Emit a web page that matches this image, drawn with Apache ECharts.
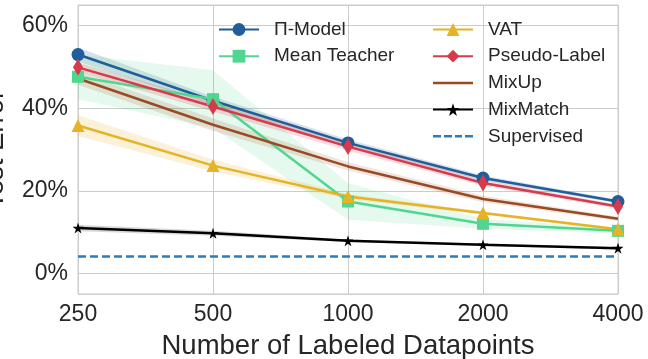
<!DOCTYPE html>
<html>
<head>
<meta charset="utf-8">
<script src="https://cdn.jsdelivr.net/npm/echarts@6/dist/echarts.min.js"></script>
<style>
  html, body { margin: 0; padding: 0; background: #fff; }
  #chart { width: 648px; height: 359px; }
</style>
</head>
<body>
<div id="chart"></div>
<script>
// values, test error in %
var labeled = ['250', '500', '1000', '2000', '4000'];
var piModel = [53.0, 41.8, 31.6, 23.1, 17.4];
var piModelStd = [1.7, 1.0, 0.8, 0.6, 0.4];
var meanTeacher = [47.6, 42.2, 17.4, 12.0, 10.3];
var meanTeacherStd = [5.4, 7.0, 4.4, 1.2, 0.6];
var vat = [35.8, 26.1, 18.6, 14.6, 10.7];
var vatStd = [2.5, 1.4, 0.6, 0.4, 0.3];
var pseudoLabel = [49.9, 40.4, 30.7, 21.9, 16.2];
var pseudoLabelStd = [1.2, 1.2, 1.0, 0.7, 0.5];
var mixUp = [47.2, 36.0, 25.9, 18.0, 13.2];
var mixUpStd = [1.5, 1.5, 1.0, 0.8, 0.5];
var mixMatch = [11.0, 9.7, 7.9, 6.9, 6.1];
var mixMatchStd = [0.8, 0.6, 0.3, 0.3, 0.3];
var supervised = [4.1, 4.1, 4.1, 4.1, 4.1];

var font = '"Liberation Sans", Arial, sans-serif';
var ink = '#262626';
var star = 'path://M0,-10L2.245,-3.09L9.51,-3.09L3.633,1.18L5.878,8.09L0,3.82L-5.878,8.09L-3.633,1.18L-9.51,-3.09L-2.245,-3.09Z';

var chart = echarts.init(document.getElementById('chart'));

function band(name, mean, std, color, opacity) {
  var lower = mean.map(function (v, i) { return v - std[i]; });
  var width = std.map(function (s) { return 2 * s; });
  return [
    { name: '_lo_' + name, type: 'line', data: lower, stack: 'b_' + name, symbol: 'none',
      lineStyle: { opacity: 0 }, silent: true, z: 1 },
    { name: '_bd_' + name, type: 'line', data: width, stack: 'b_' + name, symbol: 'none',
      lineStyle: { opacity: 0 }, areaStyle: { color: color, opacity: opacity }, silent: true, z: 1 }
  ];
}

function line(name, data, color, symbol, size, extra) {
  var s = {
    name: name, type: 'line', data: data, color: color,
    symbol: symbol, symbolSize: size, showSymbol: symbol !== 'none',
    lineStyle: { color: color, width: 2.5 },
    itemStyle: { color: color },
    z: 3
  };
  return Object.assign(s, extra || {});
}

var series = [].concat(
  band('pi', piModel, piModelStd, '#215d98', 0.18),
  band('mt', meanTeacher, meanTeacherStd, '#4fd68f', 0.15),
  band('vat', vat, vatStd, '#e6b325', 0.18),
  band('pl', pseudoLabel, pseudoLabelStd, '#d73a4a', 0.18),
  band('mu', mixUp, mixUpStd, '#9a4a23', 0.15),
  band('mm', mixMatch, mixMatchStd, '#000000', 0.15),
  [
    line('Π-Model', piModel, '#215d98', 'circle', 13),
    line('Mean Teacher', meanTeacher, '#4fd68f', 'rect', 12),
    line('VAT', vat, '#e6b325', 'triangle', 13),
    line('Pseudo-Label', pseudoLabel, '#d73a4a', 'diamond', [10, 17]),
    line('MixUp', mixUp, '#9a4a23', 'none', 0),
    line('MixMatch', mixMatch, '#000000', star, 11),
    line('Supervised', supervised, '#2b7bba', 'none', 0, {
      lineStyle: { color: '#2b7bba', width: 2.5, type: [8, 4] }
    })
  ]
);

var legendText = { fontFamily: font, fontSize: 19, color: ink, lineHeight: 19, padding: [0, 0, 0, 10] };

var option = {
  animation: false,
  backgroundColor: '#ffffff',
  grid: {
    left: 78, right: 30, top: 5, bottom: 65,
    containLabel: false, outerBoundsMode: 'none',
    show: true, borderColor: '#cccccc', borderWidth: 1
  },
  legend: [
    {
      orient: 'vertical', left: 218, top: 20, padding: 0, itemWidth: 40, itemHeight: 16, itemGap: 7.7,
      textStyle: legendText, selectedMode: false,
      data: ['Π-Model', 'Mean Teacher']
    },
    {
      orient: 'vertical', left: 432, top: 20, padding: 0, itemWidth: 40, itemHeight: 16, itemGap: 7.7,
      textStyle: legendText, selectedMode: false,
      data: [
        'VAT', 'Pseudo-Label',
        { name: 'MixUp', icon: 'path://M0,0h40v2.5h-40z' },
        'MixMatch',
        { name: 'Supervised', icon: 'path://M0,0h8v2.5h-8zM11,0h8v2.5h-8zM22,0h7v2.5h-7zM32,0h8v2.5h-8z' }
      ]
    }
  ],
  xAxis: {
    type: 'category',
    data: labeled,
    boundaryGap: false,
    name: 'Number of Labeled Datapoints',
    nameLocation: 'middle',
    nameGap: 38,
    nameTextStyle: { fontFamily: font, fontSize: 27.5, color: ink },
    axisLine: { show: false },
    axisTick: { show: false },
    axisLabel: { fontFamily: font, fontSize: 23, color: ink, margin: 9 },
    splitLine: { show: true, lineStyle: { color: '#cccccc', width: 1 } }
  },
  yAxis: {
    type: 'value',
    min: -5,
    max: 65,
    splitNumber: 4,
    name: 'Test Error',
    nameLocation: 'middle',
    nameGap: 69,
    nameTextStyle: { fontFamily: font, fontSize: 27.5, color: ink },
    axisLine: { show: false },
    axisTick: { show: false },
    axisLabel: { fontFamily: font, fontSize: 23, color: ink, margin: 10, formatter: '{value}%',
      showMinLabel: false, showMaxLabel: false },
    splitLine: { show: true, lineStyle: { color: '#cccccc', width: 1 } }
  },
  series: series
};

chart.setOption(option);
</script>
</body>
</html>
